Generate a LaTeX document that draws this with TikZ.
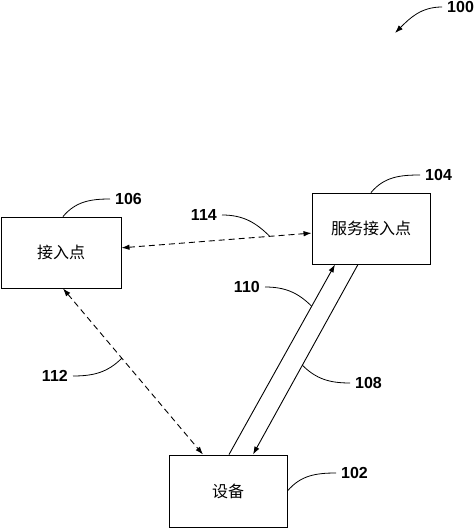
\documentclass[tikz,border=0pt]{standalone}
\usepackage{fontspec}
\setmainfont{Liberation Sans}
\newfontfamily\cjk{Noto Sans CJK SC}
\usetikzlibrary{arrows.meta}

\begin{document}
\begin{tikzpicture}[x=1pt,y=-1pt,
    box/.style={draw,line width=0.9pt,inner sep=0pt,minimum width=118pt,minimum height=71pt,font=\cjk\fontsize{16}{18}\selectfont},
    num/.style={font=\bfseries\fontsize{16}{18}\selectfont,inner xsep=5pt,inner ysep=1pt},
    lead/.style={line width=0.8pt},
    link/.style={line width=0.9pt},
    radio/.style={link,dash pattern=on 6pt off 4pt},
    >={Latex[length=8pt,width=5.5pt]}]
    \useasboundingbox (0,0) rectangle (474,529);

    \node[box,minimum width=120pt] (AP) at (61,252.5) {接入点};
    \node[box] (SAP) at (371,228.5) {服务接入点};
    \node[box,minimum height=72pt] (DEV) at (228,491) {设备};

    \node[num,anchor=west] (L100) at (442,7) {100};
    \node[num,anchor=west] (L104) at (420,175) {104};
    \node[num,anchor=west] (L106) at (110,199) {106};
    \node[num,anchor=east] (L114) at (222,215) {114};
    \node[num,anchor=east] (L110) at (265,287) {110};
    \node[num,anchor=west] (L108) at (350,383) {108};
    \node[num,anchor=east] (L112) at (73,376) {112};
    \node[num,anchor=west] (L102) at (336,473) {102};
    \coordinate (A100) at (395,33);

    % links
    \draw[radio,<->] (AP) -- coordinate[pos=0.78] (P114) (SAP);
    \draw[radio,<->] ([xshift=2]AP.south) -- coordinate[pos=0.42] (P112) ([xshift=-25]DEV.north);
    \draw[link,->] ([xshift=1]DEV.north) -- coordinate[pos=0.78] (P110) ([xshift=-36]SAP.south);
    \draw[link,->] ([xshift=-13]SAP.south) -- coordinate[pos=0.53] (P108) ([xshift=25]DEV.north);

    % leaders
    \draw[lead] ([xshift=2]AP.north) to[out=50,in=180] (L106.west);
    \draw[lead] (SAP.north) to[out=50,in=180] (L104.west);
    \draw[lead] (DEV.east) to[out=50,in=180] (L102.west);
    \draw[lead] (L114.east) to[out=0,in=135] (P114);
    \draw[lead] (L110.east) to[out=0,in=135] (P110);
    \draw[lead] (L112.east) to[out=0,in=225] (P112);
    \draw[lead] (L108.west) to[out=180,in=-45] (P108);
    \draw[lead,->] (L100.west) to[out=180,in=45] (A100);
\end{tikzpicture}
\end{document}
